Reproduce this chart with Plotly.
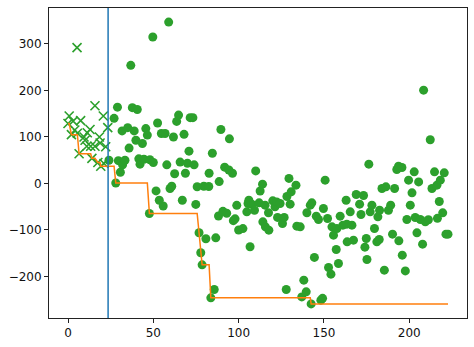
import plotly.graph_objects as go
import numpy as np

# initial samples (x markers)
init_x = [0, 0.7, 2, 3, 4, 5.3, 5.5, 6.5, 7.4, 9.4, 10, 11, 11.3, 12.9, 13.3, 14, 15.8, 15.8,
          17.5, 18.4, 18.8, 19.2, 20.7, 21.1, 22.1, 23.3]
init_y = [129, 145, 105, 134, 115, 292, 108, 64, 135, 100, 93, 80, 109, 116, 80, 54, 80, 167,
          45, 100, 87, 37, 145, 43, 79, 120]

# subsequent samples (circles)
iter_x = [24, 27, 28, 29, 29.5, 30.7, 31.7, 32, 33.4, 35, 35.8, 36.8, 37.7, 38.8, 39.8, 40.6,
          41.5, 42.2, 43.6, 44.5, 45.6, 46.5, 47.7, 48, 49.7, 50, 51.6, 52.5, 53.5, 54.7, 55.8,
          56.9, 57.9, 59, 59.8, 60.8, 61.8, 62.5, 63.7, 64.8, 65.7, 67, 68, 68.8, 70, 70.9,
          71.6, 73.2, 73.9, 74.9, 75.7, 76.8, 77.8, 78.6, 79.6, 80.8, 82.5, 82.7, 83.7, 84.6,
          85.7, 86.6, 88.2, 88.6, 89.6, 90.8, 91.8, 93, 94.3, 94.6, 96.4, 96.9, 97.9, 98.9,
          100, 102.5, 104.8, 105.5, 106, 106.7, 107.7, 109.3, 110, 112, 112.6, 114, 114.2,
          115.5, 115.7, 117.5, 117.7, 120, 121.3, 122.3, 122.8, 124.3, 125.7, 126.7, 127.9,
          128.3, 129.5, 130.2, 130.8, 133.6, 134.1, 136.1, 137, 138.2, 139.6, 140, 142, 142.5,
          142.9, 144.4, 145.5, 146.8, 148.2, 149.2, 149.7, 150.7, 152.1, 152.7, 154.1, 154.7,
          155.6, 157.2, 157.6, 158.5, 159.5, 161.1, 163, 163.4, 163.6, 165.4, 166.4, 167.3,
          168.9, 170.9, 171.7, 173.2, 174, 174.8, 175.2, 176.3, 177.1, 178.1, 179.6, 181,
          181.6, 182.4, 182.6, 184, 185.4, 186.3, 187.8, 189.1, 190.2, 191.4, 192.7, 193.7,
          193.9, 195.7, 195.9, 197.7, 198.6, 199.6, 200.6, 201.6, 202.9, 203.5, 204.5, 205.5,
          206.5, 207.8, 208.4, 209.4, 211.2, 212.3, 213.3, 214.8, 216.2, 216.5, 217.6, 218.2,
          219.6, 220.5, 221.5, 222.7]
iter_y = [50, 140, 1, 164, 49, 24, 113, 40, 50, 120, 76, 254, 163, 113, 93, 159,
          53, 41.5, 86, 52, 118, 104, -64.5, 51, 315, 45, -16, 130, -36, 107.5, -48.5,
          107.5, 40, 347, -10.8, -6, 100, 21, 133.5, 147, 46, -36, 105.7, 22, 43.5, 69.5,
          141.5, 141.5, 40, -45, -7, -106, -149, -175, -6, -119, -6.5, 22, -246, 65,
          -228, -117, -70, 4, 116, -60, 35, -64, 29, 96, 22, -80, -76, -47,
          -100, -97, -61, -43, -36, -136, -44.5, -57.6, 27, -41.7, -16.3, -1.5, -82.6,
          -46.7, -93.3, -63, -100.4, -37.4, -50.3, -39.6, -73, -43, -86, -73, -228,
          -28, 10.8, -44.5, -18, -3.7, -91.8, -93.3, -244, -208, -233, -63, -46.7, -259,
          -41.7, -159, -70.3, -77.4, -251, -247, -53.8, 7.1, -75.3, -180.6, -195, -93.3,
          -111.2, -141.9, -96.8, -172, -70.3, -89.7, -36, -87.5, -125.6, -61, -89.7, -121.9,
          -23.8, -44.5, -66.7, -26, -137, -118.3, -163.4, 41.5, -61, -46.7, -96.8, -125.6,
          -71.7, -120.4, -57.6, -10.8, -186.5, -7.2, -57.6, -46.7, -109, -10.8, 30.1, 37.2,
          -123.4, 34.4, -154.2, -188, -77.4, 7.1, -46.7, -20.1, 25, -73.1, -106.2, 3.4,
          -77.4, -130.5, 200.6, -82.6, -78, 94, -10.8, 25, -3.7, -75, -38.7, 7.1,
          -63.2, 22.8, -109, -109]

split_x = 23.5

GREEN = "#2ca02c"
ORANGE = "#ff7f0e"
BLUE = "#1f77b4"

all_x = np.array(init_x + iter_x, dtype=float)
all_y = np.array(init_y + iter_y, dtype=float)
order = np.argsort(all_x, kind="stable")
sx = all_x[order]
best = np.minimum.accumulate(all_y[order])

fig = go.Figure()
fig.add_trace(go.Scatter(x=init_x, y=init_y, mode="markers",
                         marker=dict(symbol="x-thin", size=9, color=GREEN,
                                     line=dict(color=GREEN, width=1.6)),
                         showlegend=False))
fig.add_trace(go.Scatter(x=iter_x, y=iter_y, mode="markers",
                         marker=dict(symbol="circle", size=9, color=GREEN,
                                     line=dict(width=0)),
                         showlegend=False))
fig.add_trace(go.Scatter(x=sx, y=best, mode="lines",
                         line=dict(color=ORANGE, width=1.5),
                         showlegend=False))

fig.add_shape(type="line", x0=split_x, x1=split_x, xref="x", y0=0, y1=1, yref="paper",
              line=dict(color=BLUE, width=1.5))

xmin, xmax = all_x.min(), all_x.max()
ymin, ymax = all_y.min(), all_y.max()
xp = 0.05 * (xmax - xmin)
yp = 0.05 * (ymax - ymin)

axis_common = dict(showline=True, mirror=True, linecolor="#222", linewidth=1,
                   ticks="outside", ticklen=4, tickwidth=1, tickcolor="#222",
                   showgrid=False, zeroline=False)

fig.update_xaxes(range=[xmin - xp, xmax + xp], tickvals=[0, 50, 100, 150, 200], **axis_common)
fig.update_yaxes(range=[ymin - yp, ymax + yp], tickvals=[-200, -100, 0, 100, 200, 300], **axis_common)

fig.update_layout(width=474, height=347,
                  margin=dict(l=49, r=7, t=8, b=29),
                  paper_bgcolor="white", plot_bgcolor="white",
                  font=dict(family="DejaVu Sans", size=12, color="#111"))

fig.write_html("out.html")
